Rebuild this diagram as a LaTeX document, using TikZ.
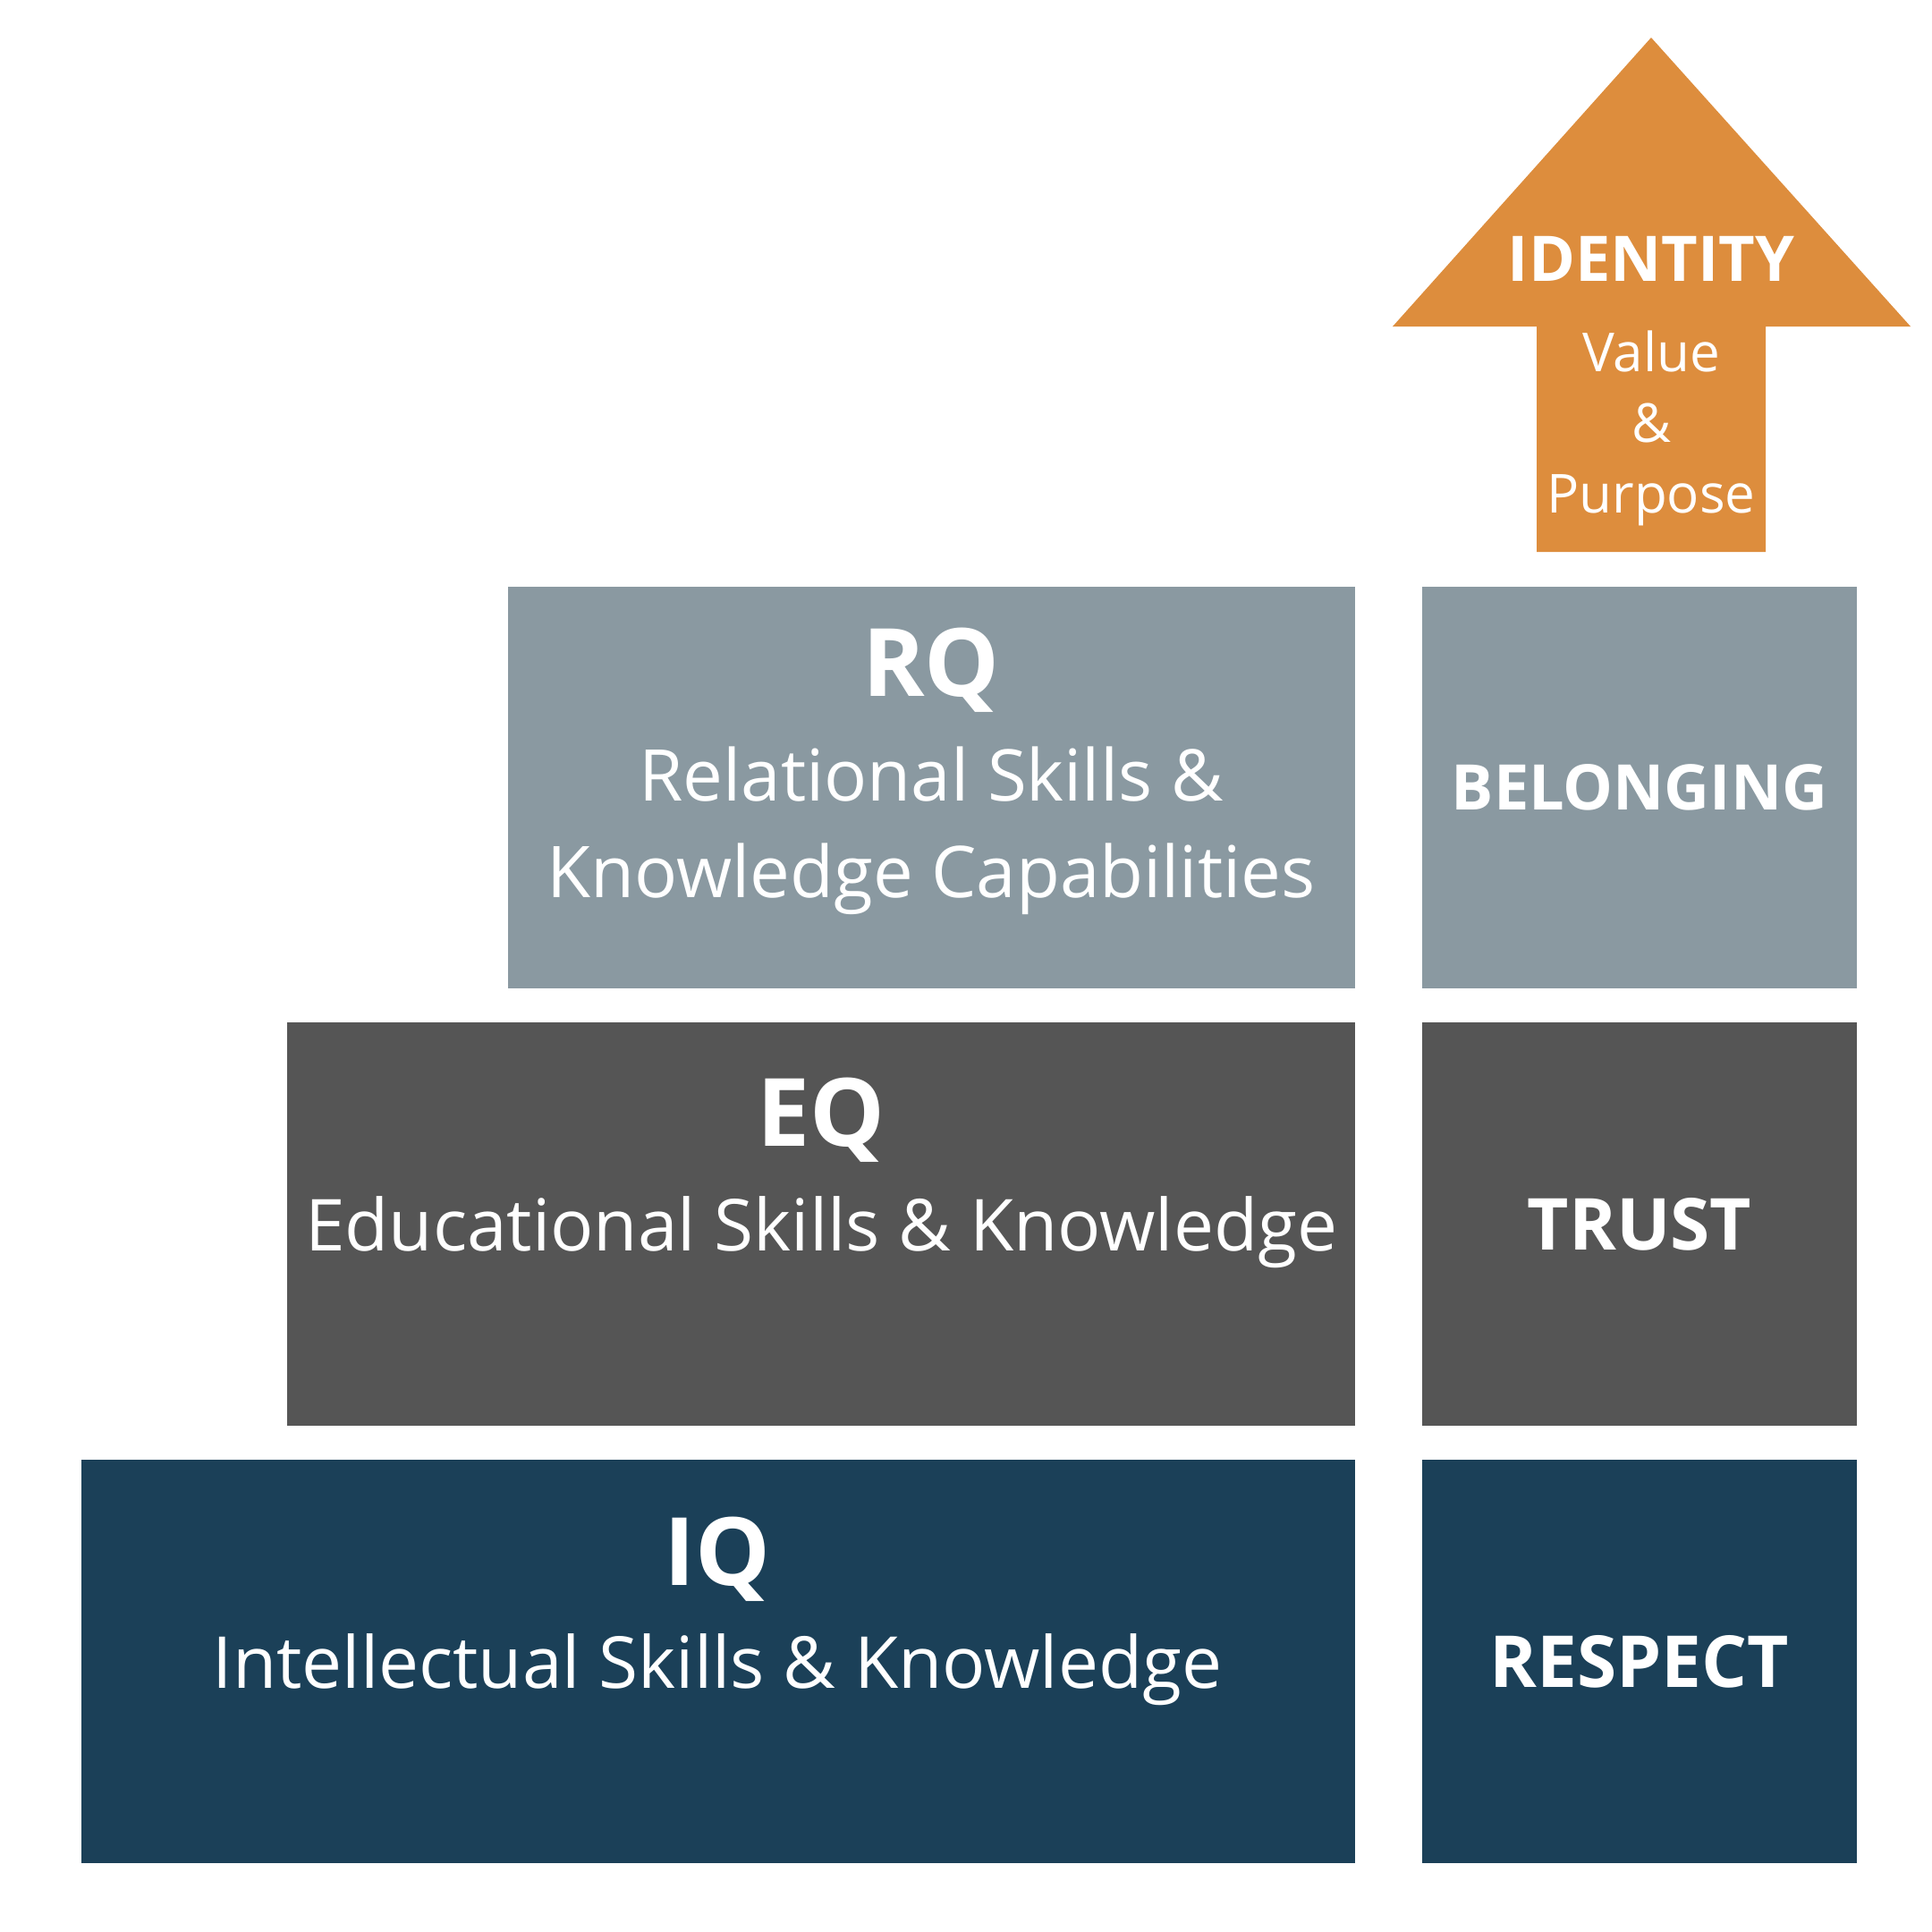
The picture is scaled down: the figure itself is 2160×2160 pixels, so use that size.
\documentclass[tikz,border=0pt]{standalone}
\usepackage{fontspec}
\setmainfont{Open Sans}
\usetikzlibrary{positioning}
\definecolor{idorange}{RGB}{221,141,61}
\definecolor{rqslate}{RGB}{138,153,161}
\definecolor{eqgray}{RGB}{85,85,85}
\definecolor{iqnavy}{RGB}{27,64,88}

\begin{document}
\begin{tikzpicture}[x=0.01cm,y=-0.01cm,
  head/.style={text=white,inner sep=0pt,anchor=base,font=\fontsize{30}{36}\selectfont\bfseries},
  body/.style={text=white,inner sep=0pt,anchor=base,align=center,font=\fontsize{22.8}{30.7}\selectfont},
  tag/.style={text=white,inner sep=0pt,anchor=base,font=\fontsize{22.8}{28}\selectfont\bfseries}]
\useasboundingbox (0,0) rectangle (2160,2160);

% left blocks
\fill[rqslate] (568,656) rectangle (1515,1105);
\fill[eqgray] (321,1143) rectangle (1515,1594);
\fill[iqnavy] (91,1632) rectangle (1515,2083);

% right blocks
\fill[rqslate] (1590,656) rectangle (2076,1105);
\fill[eqgray] (1590,1143) rectangle (2076,1594);
\fill[iqnavy] (1590,1632) rectangle (2076,2083);

% arrow
\fill[idorange] (1846,42) -- (2136,365) -- (1974,365) -- (1974,617)
  -- (1718,617) -- (1718,365) -- (1557,365) -- cycle;

\node[head] (rq) at (1041,778) {RQ};
\node[body,font=\fontsize{22.7}{30.7}\selectfont] (rqtext) at (1041,1003) {Relational Skills \&\\Knowledge Capabilities};
\node[head] (eq) at (918,1281) {EQ};
\node[body] (eqtext) at (918,1398) {Educational Skills \& Knowledge};
\node[head] (iq) at (802,1772) {IQ};
\node[body] (iqtext) at (802,1887) {Intellectual Skills \& Knowledge};

\node[tag,font=\fontsize{20}{24}\selectfont\bfseries] (belonging) at (1833,905) {BELONGING};
\node[tag] (trust) at (1833,1397) {TRUST};
\node[tag] (respect) at (1833,1886) {RESPECT};

\node[tag,font=\fontsize{20}{24}\selectfont\bfseries] (identity) at (1846,314) {IDENTITY};
\node[body,font=\fontsize{17.1}{22.4}\selectfont] (purpose) at (1846,573) {Value\\\&\\Purpose};
\end{tikzpicture}
\end{document}
